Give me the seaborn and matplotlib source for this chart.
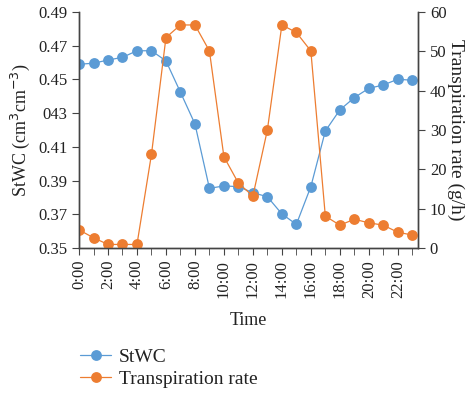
import numpy as np
import pandas as pd
import seaborn as sns
import matplotlib.pyplot as plt

hours = list(range(24))
time_labels = ["%d:00" % h for h in range(0, 24, 2)]
stwc = [0.459, 0.4596, 0.4615, 0.4631, 0.467, 0.467, 0.461, 0.4424, 0.4236, 0.3854,
        0.3868, 0.3864, 0.3828, 0.3804, 0.3702, 0.364, 0.3864, 0.4194, 0.4319, 0.4392,
        0.4447, 0.4467, 0.4501, 0.4495]
transp = [4.6, 2.6, 0.9, 0.9, 0.9, 23.8, 53.5, 56.7, 56.7, 50.1,
          23.2, 16.5, 13.2, 30.0, 56.7, 54.8, 50.1, 8.1, 5.8, 7.3,
          6.4, 5.8, 4.0, 3.3]
left_ticks = [0.35, 0.37, 0.39, 0.41, 0.43, 0.45, 0.47, 0.49]
left_labels = ["0.35", "0.37", "0.39", "0.41", "043", "0.45", "0.47", "0.49"]

df = pd.DataFrame({"hour": hours, "StWC": stwc, "Transpiration rate": transp})

sns.set_style("ticks")
plt.rcParams["font.family"] = ["Liberation Serif", "DejaVu Serif"]
plt.rcParams["font.size"] = 12

blue = "#5B9BD5"
orange = "#ED7D31"
grey = "#444444"

fig = plt.figure(figsize=(4.74, 3.93), dpi=100)
ax = fig.add_axes([0.1667, 0.369, 0.7153, 0.6005])
ax2 = ax.twinx()

sns.lineplot(data=df, x="hour", y="StWC", ax=ax, color=blue, marker="o",
             markersize=7.8, markeredgewidth=0, linewidth=0.9, label="StWC", legend=False)
sns.lineplot(data=df, x="hour", y="Transpiration rate", ax=ax2, color=orange, marker="o",
             markersize=7.8, markeredgewidth=0, linewidth=0.9, label="Transpiration rate", legend=False)

ax.set_xlim(0, 23.4)
ax.set_ylim(0.35, 0.49)
ax2.set_ylim(0, 60)
ax.set_xticks(hours, minor=True)
ax.set_xticks(range(0, 24, 2))
ax.set_xticklabels(time_labels, rotation=90)
ax.tick_params(axis="x", which="both", length=5, color=grey, labelcolor="#222222")
ax.set_yticks(left_ticks)
ax.set_yticklabels(left_labels)
ax2.set_yticks(range(0, 61, 10))
ax.tick_params(axis="y", length=5, color=grey, labelcolor="#222222")
ax2.tick_params(axis="y", length=5, color=grey, labelcolor="#222222")

ax.set_xlabel("Time", labelpad=10, fontsize=13, color="#222222")
ax.set_ylabel("StWC (cm$^3$cm$^{-3}$)", fontsize=13, color="#222222")
ax2.set_ylabel("Transpiration rate (g/h)", rotation=270, labelpad=13, fontsize=14,
               color="#222222")

for a in (ax, ax2):
    a.spines["top"].set_visible(False)
    for s in ("left", "right", "bottom"):
        a.spines[s].set_color(grey)
        a.spines[s].set_linewidth(1.0)

h1, l1 = ax.get_legend_handles_labels()
h2, l2 = ax2.get_legend_handles_labels()
leg = fig.legend(h1 + h2, l1 + l2, loc="upper left", bbox_to_anchor=(0.169, 0.113),
                 frameon=False, handlelength=1.6, handletextpad=0.4, labelspacing=0.2,
                 borderaxespad=0, borderpad=0, prop={"size": 14})
for t in leg.get_texts():
    t.set_color("#222222")

fig.savefig("out.png", dpi=100)
